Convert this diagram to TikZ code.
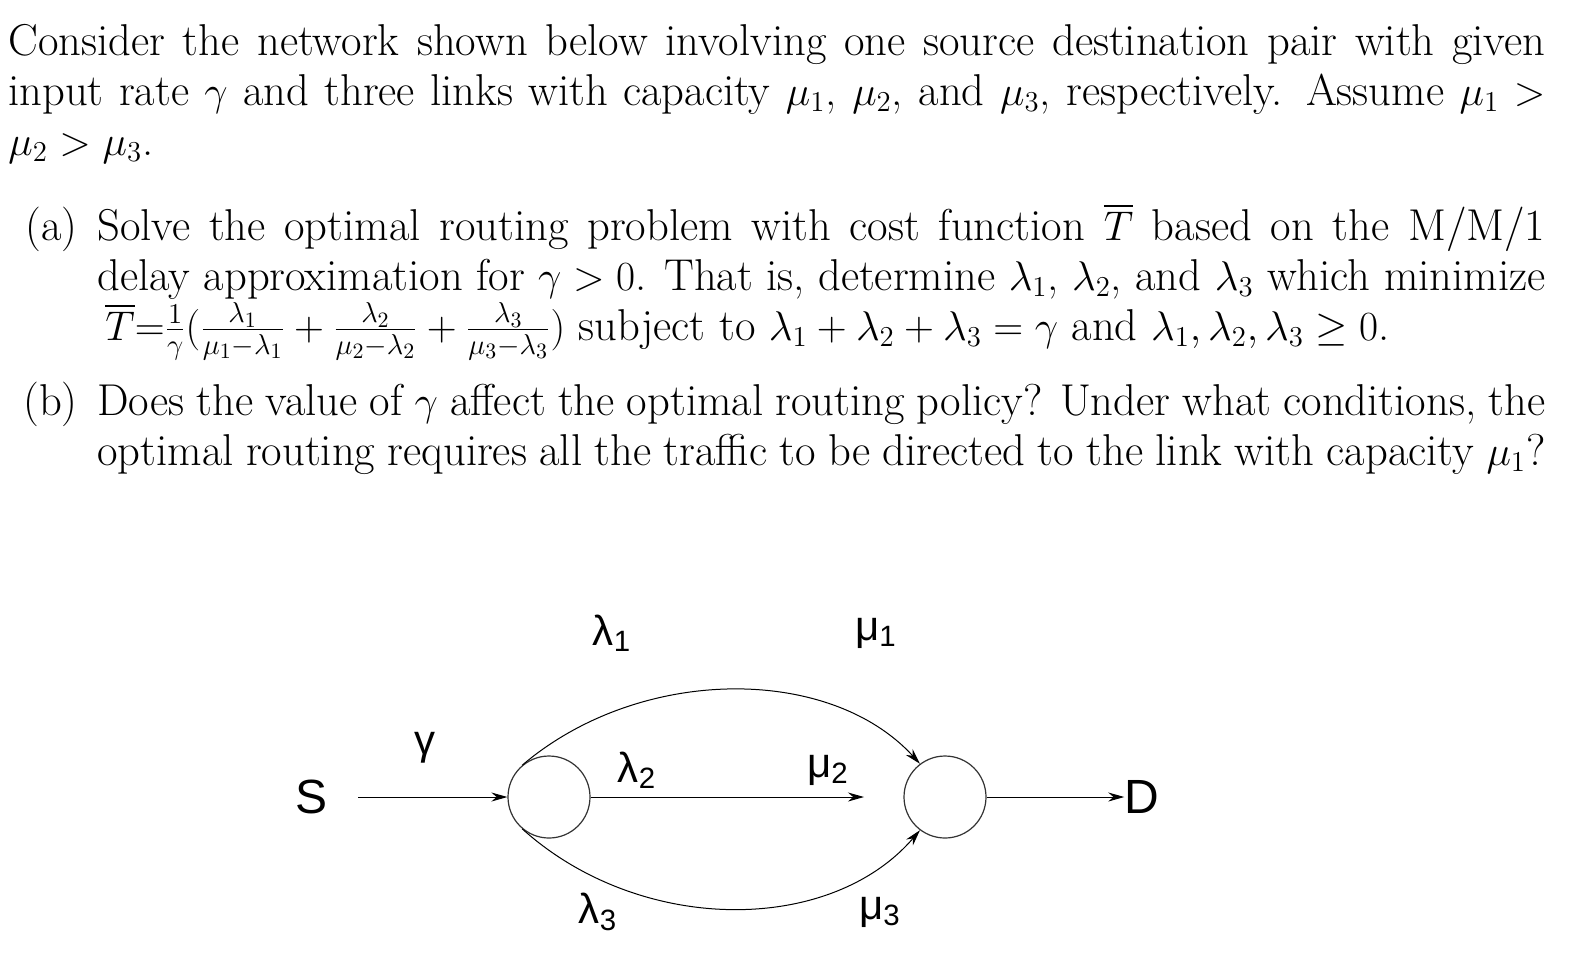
\documentclass[tikz,border=0pt]{standalone}
\usepackage{amsmath}
\usepackage{fontspec}
\newfontfamily\lab{Liberation Sans}
\usetikzlibrary{arrows.meta}
\begin{document}
\begin{tikzpicture}[x=0.5pt,y=-0.5pt,
  tl/.style={anchor=base west,inner sep=0pt,font=\fontsize{22.3}{25}\selectfont},
  nd/.style={circle,draw=black!80,line width=0.6pt,minimum size=41pt,inner sep=0pt},
  lb/.style={inner sep=0pt,font=\lab\fontsize{21}{21}\selectfont},
  ar/.style={line width=0.5pt,-{Stealth[length=8pt,width=4.5pt]}}]
\useasboundingbox (0,0) rectangle (1584,970);
\node[tl] (l1) at (8,55) {\makebox[768.5pt][s]{Consider the network shown below involving one source destination pair with given}};
\node[tl] (l2) at (8,105) {\makebox[768.5pt][s]{input rate $\gamma$ and three links with capacity $\mu_1$, $\mu_2$, and $\mu_3$, respectively. Assume $\mu_1 >$}};
\node[tl] (l3) at (8,155) {$\mu_2>\mu_3$.};
\node[tl] (a) at (25,240) {(a)};
\node[tl] (a1) at (97,240) {\makebox[724pt][s]{Solve the optimal routing problem with cost function $\overline{T}$ based on the M/M/1}};
\node[tl] (a2) at (97,290) {\makebox[724pt][s]{delay approximation for $\gamma>0$. That is, determine $\lambda_1$, $\lambda_2$, and $\lambda_3$ which minimize}};
\node[tl] (a3) at (105,340) {$\overline{T}{=}\frac{1}{\gamma}(\frac{\lambda_1}{\mu_1-\lambda_1}+\frac{\lambda_2}{\mu_2-\lambda_2}+\frac{\lambda_3}{\mu_3-\lambda_3})$ subject to $\lambda_1+\lambda_2+\lambda_3=\gamma$ and $\lambda_1,\lambda_2,\lambda_3\geq0$.};
\node[tl] (b) at (23,415) {(b)};
\node[tl] (b1) at (97,415) {\makebox[724pt][s]{Does the value of $\gamma$ affect the optimal routing policy? Under what conditions, the}};
\node[tl] (b2) at (97,465) {\makebox[724pt][s]{optimal routing requires all the traffic to be directed to the link with capacity $\mu_1$?}};
% diagram
\node[nd] (L) at (549,797) {};
\node[nd] (R) at (945,797) {};
\node[lb,font=\lab\fontsize{24}{24}\selectfont] (S) at (312,797) {S};
\node[lb,font=\lab\fontsize{24}{24}\selectfont] (D) at (1142,797) {D};
\coordinate (m2) at (864,797);
\draw[ar] (S.east)+(30,0) coordinate (s0) -- (L.west);
\draw[ar] (R.east) -- (D.west);
\draw[ar] (L.east) -- (m2);
\draw[ar] (L.130) .. controls (640,665) and (830,665) .. (R.127);
\draw[ar] (L.230) .. controls (640,935) and (830,935) .. (R.233);
\node[lb] (g) at (425,748) {γ};
\node[lb] (l1d) at (612,633) {λ\textsubscript{1}};
\node[lb] (m1d) at (876,633) {μ\textsubscript{1}};
\node[lb] (l2d) at (637,770) {λ\textsubscript{2}};
\node[lb] (m2d) at (828,770) {μ\textsubscript{2}};
\node[lb] (l3d) at (598,912) {λ\textsubscript{3}};
\node[lb] (m3d) at (880,912) {μ\textsubscript{3}};
\end{tikzpicture}
\end{document}
